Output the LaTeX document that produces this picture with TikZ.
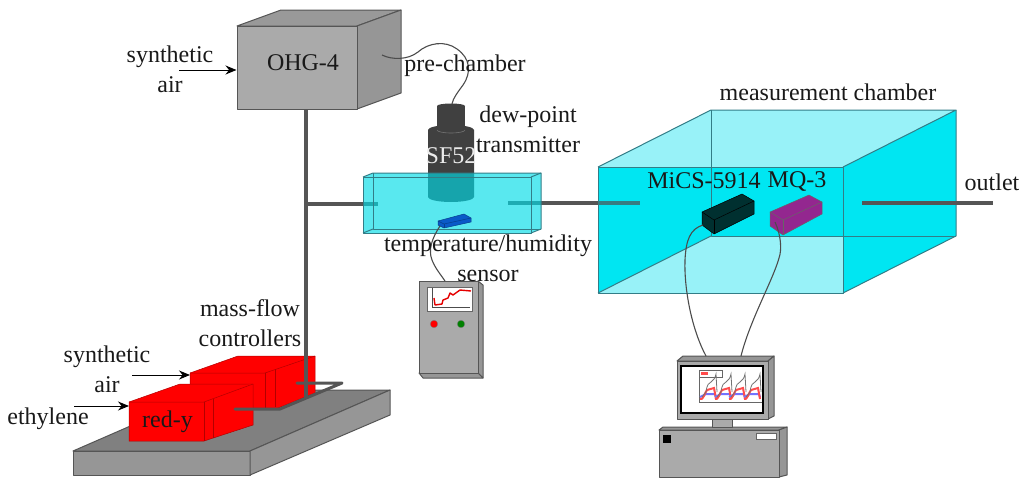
\documentclass[tikz,border=0pt]{standalone}
\usepackage{fontspec}
\setmainfont{Liberation Serif}
\usetikzlibrary{arrows.meta}
\definecolor{pipegray}{RGB}{85,85,85}
\definecolor{boxgray}{RGB}{170,170,170}
\definecolor{boxdark}{RGB}{150,150,150}
\definecolor{boxedge}{RGB}{85,85,85}
\definecolor{chamberfull}{RGB}{0,230,242}
\definecolor{chamberpale}{RGB}{152,242,248}
\definecolor{chamberedge}{RGB}{50,125,135}
\definecolor{pipetint}{RGB}{55,125,130}
\definecolor{flowred}{RGB}{255,0,0}
\definecolor{sensorgreen}{RGB}{0,48,48}
\definecolor{sensorpurple}{RGB}{147,39,143}
\definecolor{sensorblue}{RGB}{10,90,200}

\begin{document}
\begin{tikzpicture}[
        x=1pt, y=-1pt,
        txt/.style={inner sep=0pt, align=center, font=\fontsize{24}{30}\selectfont, text=black!90},
        face/.style={draw=boxedge, fill=boxgray, line width=1pt, line join=round},
        darkface/.style={draw=boxedge, fill=boxdark, line width=1pt, line join=round},
        redface/.style={draw=red!70!black, fill=flowred, line width=0.5pt, line join=round},
        glass/.style={draw=chamberedge, line width=1pt, line join=round},
        pipe/.style={draw=pipegray, line width=3.6pt},
        wire/.style={draw=black!70, line width=1.1pt},
        arrow/.style={-{Stealth[length=11pt,width=9pt]}, draw=black, line width=1pt}
    ]
        \useasboundingbox (0,0) rectangle (1024,490);

        % Connection points
        \coordinate (ohgbottom) at (306,109);
        \coordinate (teejoint) at (306,204);
        \coordinate (flowjoint) at (306,397);
        \coordinate (preleft) at (378,204);
        \coordinate (preright) at (508,203);
        \coordinate (measwall) at (598,203);
        \coordinate (measleft) at (640,203);
        \coordinate (measright) at (862,203);
        \coordinate (outletend) at (993,203);
        \coordinate (manifolda) at (235,409);
        \coordinate (manifoldb) at (280,409);
        \coordinate (manifoldc) at (342,383);
        \coordinate (manifoldd) at (297,383);
        \coordinate (airfree) at (179,70);
        \coordinate (airflowfree) at (132,375);
        \coordinate (airflowend) at (190,375);
        \coordinate (ethfree) at (74,406);
        \coordinate (ethend) at (129,406);

        % Platform
        \draw[darkface, fill=black!50] (73,451) -- (213,390) -- (390,390) -- (250,451) -- cycle;
        \draw[darkface] (73,451) rectangle (250,475);
        \draw[darkface] (250,451) -- (390,390) -- (390,415) -- (250,475) -- cycle;

        % Mass-flow controllers
        \draw[redface] (190,373) -- (238,356) -- (315,356) -- (315,393) -- (278,408) -- (190,408) -- cycle;
        \draw[redface] (190,373) -- (265,373) -- (315,356);
        \draw[redface] (265,373) -- (265,408);
        \draw[redface] (275,369) -- (275,407);
        \draw[redface] (129,402) -- (180,384) -- (253,384) -- (253,425) -- (204,441) -- (129,441) -- cycle;
        \draw[redface] (129,402) -- (204,402) -- (253,384);
        \draw[redface] (204,402) -- (204,441);
        \draw[redface] (213,399) -- (213,438);
        \node[txt, minimum width=75pt, minimum height=39pt] (redy) at (167.5,421.5) {red-y};

        % OHG-4 box
        \draw[darkface, fill=black!40] (237,26) -- (281,10) -- (401,10) -- (357,26) -- cycle;
        \draw[darkface] (357,26) -- (401,10) -- (401,93) -- (357,109) -- cycle;
        \node[face, minimum width=120pt, minimum height=83pt, inner sep=0pt] (ohg) at (297,67.5) {};
        \node[txt] (ohglabel) at (303,63) {OHG-4};

        % Pipes
        \draw[pipe] (ohgbottom) -- (flowjoint);
        \draw[pipe] (teejoint) -- (preleft);
        \draw[pipe] (preright) -- (measleft);
        \draw[pipe, line width=3pt, line cap=round, line join=round] (manifolda) -- (manifoldb) -- (manifoldc) -- (manifoldd);

        % Dew-point transmitter
        \fill[black!75] (428,130) -- (428,197) arc[start angle=180, end angle=360, x radius=23pt, y radius=5pt] -- (474,130)
            arc[start angle=0, end angle=180, x radius=23pt, y radius=5pt] -- cycle;
        \fill[black!75] (437,106) rectangle (465,130);
        \draw[black!55, line width=0.6pt] (437,130) arc[start angle=180, end angle=360, x radius=14pt, y radius=3pt];
        \fill[black!75] (451,106) ellipse[x radius=14pt, y radius=2.5pt];

        % Pre-chamber
        \fill[chamberfull!95!black, opacity=0.65] (363,177) -- (373,173) -- (541,173) -- (541,229) -- (531,233) -- (363,233) -- cycle;
        \draw[glass] (363,177) rectangle (531,233);
        \draw[glass] (363,177) -- (373,173) -- (541,173) -- (541,229) -- (531,233);
        \draw[glass] (531,177) -- (541,173);
        \draw[glass] (373,173) -- (373,229) -- (541,229);
        \draw[glass] (363,233) -- (373,229);

        % Temperature/humidity sensor
        \draw[fill=sensorblue, draw=sensorblue!70!black, line width=0.5pt, line join=round]
            (438,221) -- (464,214) -- (471,218) -- (471,222) -- (444,228) -- (438,225) -- cycle;
        \draw[sensorblue!70!black, line width=0.5pt] (438,221) -- (444,224) -- (471,218);
        \draw[sensorblue!70!black, line width=0.5pt] (444,224) -- (444,228);

        % Measurement chamber
        \fill[chamberpale] (598,167) -- (711,110) -- (956,110) -- (843,167) -- cycle;
        \fill[chamberfull] (598,167) rectangle (843,293);
        \fill[chamberpale] (598,293) -- (711,236) -- (843,236) -- (843,293) -- cycle;
        \fill[chamberfull] (843,167) -- (956,110) -- (956,236) -- (843,293) -- cycle;
        \draw[glass] (598,167) rectangle (843,293);
        \draw[glass] (598,167) -- (711,110) -- (956,110) -- (843,167);
        \draw[glass] (956,110) -- (956,236) -- (843,293);
        \draw[glass] (711,110) -- (711,236) -- (956,236);
        \draw[glass] (598,293) -- (711,236);

        \draw[pipe, draw=pipetint] (measwall) -- (measleft);
        \draw[pipe] (measright) -- (outletend);

        % MiCS-5914 and MQ-3
        \draw[fill=sensorgreen, draw=black, line width=0.5pt, line join=round]
            (702,212) -- (742,194) -- (754,201) -- (754,214) -- (714,234) -- (702,225) -- cycle;
        \draw[black, line width=0.5pt] (702,212) -- (714,220) -- (754,201);
        \draw[black, line width=0.5pt] (714,220) -- (714,234);
        \draw[fill=sensorpurple, draw=black!60, line width=0.5pt, line join=round]
            (770,212) -- (809,195) -- (822,202) -- (822,214) -- (783,235) -- (770,226) -- cycle;
        \draw[black!60, line width=0.5pt] (770,212) -- (783,220) -- (822,202);
        \draw[black!60, line width=0.5pt] (783,220) -- (783,235);
        \coordinate (micsend) at (703,225);
        \coordinate (mqend) at (775,222);

        % Humidity display unit
        \draw[darkface] (478,281) -- (483,285) -- (483,378) -- (478,373) -- cycle;
        \draw[darkface] (419,373) -- (478,373) -- (483,378) -- (423,378) -- cycle;
        \node[face, minimum width=59pt, minimum height=92pt, inner sep=0pt] (unit) at (448.5,327) {};
        \draw[draw=black!60, fill=white, line width=1pt] (427,287) rectangle (472,311);
        \draw[black!70, line width=0.5pt] (432,288) -- (432,307) -- (470,307);
        \draw[red!90!black, line width=1.4pt, line join=round]
            (434,298) -- (435,305) -- (442,304) -- (443,300) -- (448,298) -- (450,293) -- (453,295) -- (460,290) -- (471,291);
        \draw[draw=black!50, fill=red] (434,324) circle[radius=3.8pt];
        \draw[draw=black!50, fill=green!50!black] (461,324) circle[radius=3.8pt];

        % Computer
        \draw[darkface] (663,427) -- (787,427) -- (779,430) -- (659,430) -- cycle;
        \draw[darkface] (779,430) -- (787,427) -- (787,475) -- (779,477) -- cycle;
        \draw[face] (659,430) rectangle (779,477);
        \node[face, minimum width=20pt, minimum height=8pt, inner sep=0pt] (neck) at (722,423) {};
        \draw[darkface] (677,361) -- (683,356) -- (774,356) -- (768,361) -- cycle;
        \draw[darkface] (768,361) -- (774,356) -- (774,416) -- (768,419) -- cycle;
        \node[face, minimum width=91pt, minimum height=58pt, inner sep=0pt] (monitor) at (722.5,390) {};
        \draw[draw=black, fill=white, line width=1.4pt] (681,366) rectangle (763,413);
        \draw[black!60, line width=0.5pt] (699,370) -- (699,402) -- (762,402);
        \draw[black!60, line width=0.5pt] (699,370) rectangle (722,377);
        \fill[red!70] (701,372) rectangle (708,375);
        \foreach \k in {706,721,735,750} {
            \draw[blue!55, line width=2pt] ({\k-6},397) -- ({\k},394) -- ({\k+9},394) -- ({\k+10},397);
            \draw[red!70, line width=2pt] ({\k-6},399) .. controls ({\k-3},401) and ({\k-1},392) .. ({\k+1},390)
                -- ({\k+8},388) -- ({\k+10},399);
            \draw[black!55, line width=0.8pt] ({\k-4},397) -- ({\k},392) .. controls ({\k+1},384) and ({\k+3},383) .. ({\k+5},382)
                .. controls ({\k+8},380) and ({\k+9},378) .. ({\k+10},374) -- ({\k+11},392);
        }
        \fill[black] (663,435) rectangle (671,443);
        \draw[draw=black!60, fill=white, line width=0.5pt] (756,433) rectangle (776,439);

        % Wires
        \coordinate (ohgwire) at (382,55);
        \coordinate (sfwire) at (452,104);
        \coordinate (bluewire) at (440,226);
        \coordinate (unitwire) at (445,281);
        \coordinate (pcleft) at (706,356);
        \coordinate (pcright) at (741,356);
        \draw[wire] (ohgwire) .. controls (392,60) and (408,60) .. (418,52)
            .. controls (428,43) and (445,40) .. (457,49)
            .. controls (470,58) and (472,72) .. (463,85)
            .. controls (458,92) and (453,98) .. (sfwire);
        \draw[wire] (bluewire) .. controls (432,238) and (428,250) .. (432,260)
            .. controls (435,268) and (441,275) .. (unitwire);
        \draw[wire] (micsend) .. controls (690,229) and (686,240) .. (685,260)
            .. controls (684,290) and (692,330) .. (pcleft);
        \draw[wire] (mqend) .. controls (781,235) and (782,250) .. (779,258)
            .. controls (773,280) and (750,320) .. (pcright);

        % Gas inlets
        \draw[arrow] (airfree) -- (ohg.west |- airfree);
        \draw[arrow] (airflowfree) -- (airflowend);
        \draw[arrow] (ethfree) -- (ethend);

        % Labels
        \node[txt] (airtop) at (170,69) {synthetic\\air};
        \node[txt] (prelabel) at (465,66) {pre-chamber};
        \node[txt] (dewlabel) at (528,129) {dew-point\\transmitter};
        \node[txt, text=white!92!black] (sflabel) at (451,156) {SF52};
        \node[txt] (templabel) at (488,258) {temperature/humidity\\sensor};
        \node[txt] (masslabel) at (250,323) {mass-flow\\controllers};
        \node[txt] (airlow) at (107,369) {synthetic\\air};
        \node[txt] (ethlabel) at (48,419) {ethylene};
        \node[txt] (measlabel) at (828,92) {measurement chamber};
        \node[txt] (micslabel) at (704,181) {MiCS-5914};
        \node[txt] (mqlabel) at (797,181) {MQ-3};
        \node[txt] (outlabel) at (992,182) {outlet};
    \end{tikzpicture}
\end{document}
